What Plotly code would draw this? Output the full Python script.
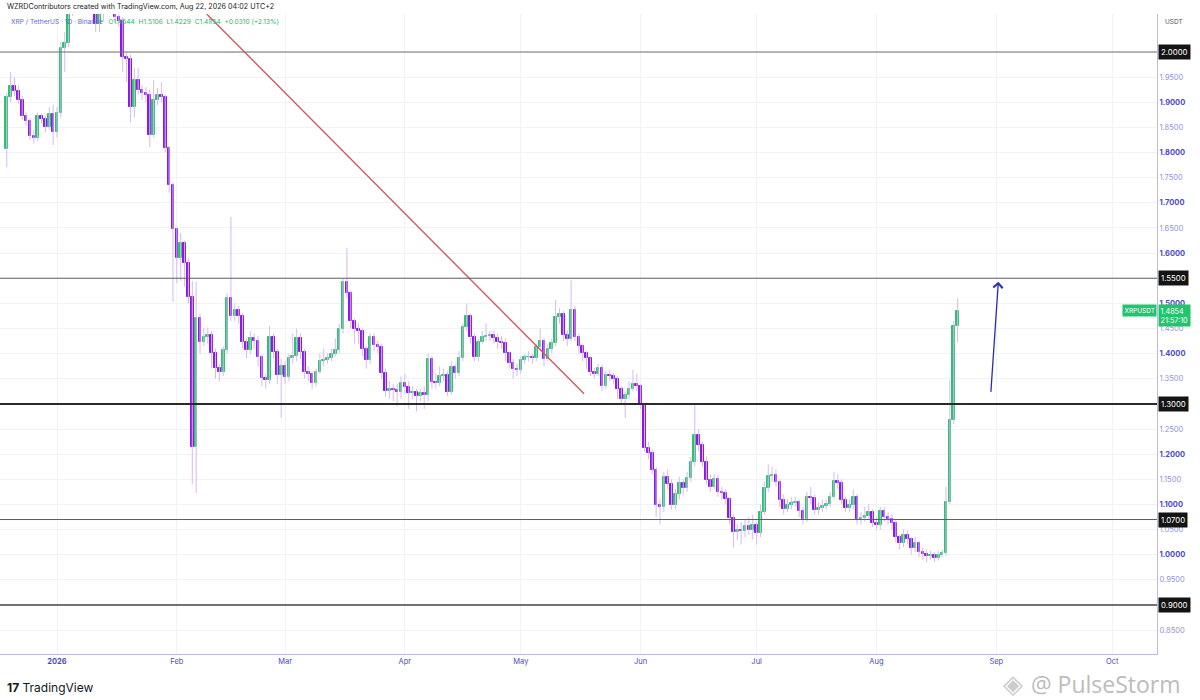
import pandas as pd
import plotly.graph_objects as go

FONT = 'Inter, Roboto, sans-serif'
UP_COLOR = '#2cc270'
DOWN_COLOR = '#8a1ae8'
WICK_COLOR = '#d6b9f3'
AXIS_TEXT = '#4a4ac4'
AXIS_TEXT_LIGHT = '#9092de'
GRID_COLOR = '#f1f2f7'
AXIS_LINE = '#b7bbe8'
LABEL_GREEN = '#22c46e'
DAY_MS = 86400000

# XRP/USDT daily candles, 2025-12-19 .. 2026-08-22 (open = previous close)
first_open = 1.807

dec_close = [1.910, 1.932, 1.922, 1.905, 1.873, 1.863, 1.833, 1.828, 1.872, 1.866, 1.850, 1.876, 1.841]
dec_high = [1.918, 1.960, 1.950, 1.934, 1.912, 1.880, 1.868, 1.845, 1.880, 1.878, 1.872, 1.890, 1.895]
dec_low = [1.771, 1.900, 1.912, 1.897, 1.865, 1.853, 1.825, 1.818, 1.823, 1.858, 1.840, 1.845, 1.815]

jan_close = [1.879, 2.008, 2.018, 2.080, 2.110, 2.140, 2.150, 2.120, 2.100, 2.110, 2.055, 2.100, 2.120, 2.140, 2.090, 2.069,
             2.062, 1.990, 1.986, 1.890, 1.945, 1.925, 1.919, 1.915, 1.835, 1.905, 1.915, 1.910, 1.809, 1.735, 1.648]
jan_high = [1.890, 2.020, 2.040, 2.095, 2.130, 2.160, 2.180, 2.160, 2.130, 2.125, 2.120, 2.110, 2.135, 2.160, 2.150, 2.100,
            2.075, 2.070, 2.000, 1.995, 1.968, 1.968, 1.935, 1.930, 1.925, 1.944, 1.928, 1.940, 1.915, 1.812, 1.740]
jan_low = [1.830, 1.870, 1.960, 2.010, 2.072, 2.100, 2.120, 2.100, 2.080, 2.090, 2.040, 2.040, 2.060, 2.100, 2.080, 2.060,
           2.050, 1.960, 1.940, 1.860, 1.870, 1.915, 1.905, 1.900, 1.811, 1.830, 1.895, 1.900, 1.800, 1.720, 1.503]

feb_close = [1.590, 1.620, 1.580, 1.513, 1.214, 1.471, 1.424, 1.433, 1.438, 1.401, 1.371, 1.364, 1.407, 1.511,
             1.475, 1.487, 1.475, 1.423, 1.407, 1.431, 1.425, 1.393, 1.352, 1.348, 1.433, 1.403, 1.358, 1.376]
feb_high = [1.650, 1.640, 1.625, 1.590, 1.545, 1.543, 1.480, 1.450, 1.452, 1.445, 1.410, 1.380, 1.415, 1.520,
            1.672, 1.500, 1.495, 1.480, 1.430, 1.445, 1.440, 1.435, 1.398, 1.360, 1.455, 1.440, 1.410, 1.390]
feb_low = [1.540, 1.545, 1.533, 1.500, 1.140, 1.123, 1.400, 1.415, 1.420, 1.370, 1.350, 1.345, 1.355, 1.400,
           1.465, 1.465, 1.460, 1.410, 1.390, 1.400, 1.410, 1.375, 1.335, 1.330, 1.340, 1.390, 1.340, 1.272]

mar_close = [1.354, 1.391, 1.395, 1.431, 1.403, 1.364, 1.360, 1.342, 1.364, 1.385, 1.388, 1.392, 1.400, 1.407, 1.449, 1.543,
             1.521, 1.465, 1.449, 1.445, 1.409, 1.387, 1.433, 1.417, 1.413, 1.362, 1.326, 1.330, 1.328, 1.324, 1.342]
mar_high = [1.385, 1.400, 1.440, 1.450, 1.440, 1.410, 1.375, 1.365, 1.370, 1.400, 1.410, 1.400, 1.410, 1.430, 1.460, 1.550,
            1.610, 1.525, 1.470, 1.460, 1.450, 1.415, 1.440, 1.440, 1.425, 1.420, 1.370, 1.345, 1.340, 1.340, 1.355]
mar_low = [1.340, 1.345, 1.380, 1.385, 1.390, 1.350, 1.345, 1.330, 1.335, 1.360, 1.375, 1.380, 1.385, 1.395, 1.400, 1.440,
           1.510, 1.450, 1.420, 1.420, 1.395, 1.370, 1.380, 1.405, 1.400, 1.350, 1.315, 1.310, 1.305, 1.295, 1.310]

apr_close = [1.334, 1.322, 1.324, 1.316, 1.322, 1.318, 1.389, 1.344, 1.342, 1.356, 1.357, 1.324, 1.373, 1.361, 1.391,
             1.453, 1.475, 1.433, 1.393, 1.423, 1.433, 1.435, 1.437, 1.431, 1.423, 1.421, 1.401, 1.381, 1.369, 1.368]
apr_high = [1.360, 1.345, 1.335, 1.330, 1.330, 1.335, 1.400, 1.395, 1.360, 1.375, 1.370, 1.365, 1.385, 1.380, 1.405,
            1.460, 1.500, 1.480, 1.440, 1.430, 1.445, 1.460, 1.445, 1.445, 1.440, 1.435, 1.430, 1.405, 1.390, 1.380]
apr_low = [1.320, 1.290, 1.310, 1.285, 1.305, 1.290, 1.305, 1.330, 1.330, 1.335, 1.345, 1.315, 1.318, 1.350, 1.355,
           1.385, 1.445, 1.420, 1.385, 1.385, 1.420, 1.425, 1.425, 1.420, 1.410, 1.410, 1.385, 1.370, 1.350, 1.355]

may_close = [1.387, 1.393, 1.394, 1.391, 1.413, 1.425, 1.389, 1.410, 1.421, 1.473, 1.479, 1.437, 1.429, 1.487, 1.433, 1.415,
             1.401, 1.391, 1.364, 1.360, 1.372, 1.336, 1.358, 1.356, 1.350, 1.330, 1.310, 1.318, 1.330, 1.340, 1.335]
may_high = [1.395, 1.400, 1.405, 1.400, 1.420, 1.450, 1.430, 1.420, 1.430, 1.507, 1.490, 1.485, 1.445, 1.546, 1.495, 1.440,
            1.420, 1.405, 1.395, 1.372, 1.380, 1.378, 1.365, 1.368, 1.362, 1.355, 1.335, 1.325, 1.345, 1.368, 1.360]
may_low = [1.360, 1.380, 1.385, 1.380, 1.385, 1.405, 1.375, 1.385, 1.400, 1.415, 1.460, 1.425, 1.415, 1.425, 1.425, 1.400,
           1.385, 1.370, 1.355, 1.350, 1.355, 1.325, 1.330, 1.345, 1.340, 1.310, 1.300, 1.272, 1.310, 1.325, 1.325]

jun_close = [1.298, 1.212, 1.202, 1.169, 1.099, 1.095, 1.155, 1.140, 1.099, 1.120, 1.143, 1.133, 1.153, 1.185, 1.238,
             1.218, 1.185, 1.149, 1.135, 1.151, 1.125, 1.123, 1.111, 1.073, 1.045, 1.049, 1.047, 1.057, 1.050, 1.060]
jun_high = [1.340, 1.300, 1.225, 1.210, 1.175, 1.110, 1.165, 1.170, 1.150, 1.130, 1.155, 1.150, 1.165, 1.195, 1.298,
            1.250, 1.225, 1.195, 1.160, 1.160, 1.158, 1.135, 1.130, 1.115, 1.080, 1.060, 1.065, 1.070, 1.075, 1.080]
jun_low = [1.290, 1.205, 1.190, 1.160, 1.075, 1.060, 1.085, 1.130, 1.090, 1.090, 1.110, 1.120, 1.125, 1.145, 1.175,
           1.205, 1.175, 1.140, 1.125, 1.130, 1.115, 1.110, 1.100, 1.060, 1.014, 1.030, 1.020, 1.035, 1.040, 1.030]

jul_close = [1.043, 1.085, 1.133, 1.157, 1.159, 1.145, 1.109, 1.091, 1.099, 1.103, 1.105, 1.087, 1.071, 1.115, 1.112, 1.089,
             1.093, 1.097, 1.101, 1.115, 1.147, 1.143, 1.109, 1.093, 1.099, 1.115, 1.071, 1.074, 1.077, 1.085, 1.063]
jul_high = [1.065, 1.100, 1.145, 1.180, 1.175, 1.170, 1.150, 1.120, 1.110, 1.115, 1.115, 1.110, 1.095, 1.125, 1.135, 1.120,
            1.105, 1.110, 1.110, 1.125, 1.165, 1.160, 1.150, 1.115, 1.110, 1.130, 1.120, 1.085, 1.095, 1.100, 1.090]
jul_low = [1.020, 1.035, 1.080, 1.125, 1.145, 1.135, 1.095, 1.080, 1.085, 1.090, 1.095, 1.075, 1.060, 1.065, 1.100, 1.080,
           1.080, 1.085, 1.090, 1.095, 1.110, 1.130, 1.100, 1.085, 1.085, 1.090, 1.060, 1.060, 1.065, 1.070, 1.055]

aug_close = [1.059, 1.087, 1.075, 1.071, 1.063, 1.035, 1.023, 1.039, 1.031, 1.013, 1.023, 1.005, 1.002, 0.997, 0.999,
             0.994, 0.999, 1.003, 1.105, 1.268, 1.4544, 1.4854]
aug_high = [1.075, 1.095, 1.095, 1.085, 1.080, 1.068, 1.040, 1.050, 1.048, 1.035, 1.035, 1.028, 1.015, 1.010, 1.008,
            1.005, 1.008, 1.010, 1.135, 1.348, 1.465, 1.5106]
aug_low = [1.050, 1.050, 1.065, 1.060, 1.050, 1.025, 1.010, 1.015, 1.020, 1.000, 1.005, 0.995, 0.990, 0.985, 0.990,
           0.985, 0.988, 0.995, 0.998, 1.100, 1.260, 1.4229]

levels = [2.0, 1.55, 1.30, 1.07, 0.90]
level_labels = ['2.0000', '1.5500', '1.3000', '1.0700', '0.9000']

trend_dates = ['2026-02-08 17:30', '2026-05-17 08:30']
trend_prices = [2.0756, 1.320]

arrow_dates = ['2026-08-30 14:00', '2026-09-01 13:00']
arrow_prices = [1.321, 1.543]

month_ticks = ['2026-01-01', '2026-02-01', '2026-03-01', '2026-04-01', '2026-05-01',
               '2026-06-01', '2026-07-01', '2026-08-01', '2026-09-01', '2026-10-01']
month_labels = ['<b>2026</b>', 'Feb', 'Mar', 'Apr', 'May', 'Jun', 'Jul', 'Aug', 'Sep', 'Oct']

y_ticks = [0.85, 0.90, 0.95, 1.00, 1.05, 1.10, 1.15, 1.20, 1.25, 1.30, 1.35, 1.40, 1.45,
           1.50, 1.55, 1.60, 1.65, 1.70, 1.75, 1.80, 1.85, 1.90, 1.95, 2.00]

# line colour / width per horizontal level
LEVEL_STYLE = {2.0: ('#6e6e6e', 1), 1.55: ('#5e5e5e', 1), 1.30: ('#2a2a2a', 2), 1.07: ('#5e5e5e', 1), 0.90: ('#444444', 1.4)}

dates = pd.date_range('2025-12-19', '2026-08-22', freq='D')
closes = dec_close + jan_close + feb_close + mar_close + apr_close + may_close + jun_close + jul_close + aug_close
highs = dec_high + jan_high + feb_high + mar_high + apr_high + may_high + jun_high + jul_high + aug_high
lows = dec_low + jan_low + feb_low + mar_low + apr_low + may_low + jun_low + jul_low + aug_low
assert len(dates) == len(closes) == len(highs) == len(lows)
opens = [first_open] + closes[:-1]

fig = go.Figure()

wick_x, wick_y = [], []
for d, lo, hi in zip(dates, lows, highs):
    wick_x += [d, d, None]
    wick_y += [lo, hi, None]
fig.add_trace(go.Scatter(x=wick_x, y=wick_y, mode='lines', line=dict(color=WICK_COLOR, width=1), hoverinfo='skip'))

body_base = [min(o, c) for o, c in zip(opens, closes)]
body_size = [abs(c - o) for o, c in zip(opens, closes)]
body_color = [UP_COLOR if c >= o else DOWN_COLOR for o, c in zip(opens, closes)]
fig.add_trace(go.Bar(
    x=dates, y=body_size, base=body_base, width=0.68 * DAY_MS,
    marker=dict(color=body_color, line=dict(color=body_color, width=1)),
    hoverinfo='skip',
))

fig.add_trace(go.Scatter(x=trend_dates, y=trend_prices, mode='lines',
                         line=dict(color='#cf5b63', width=1.4), hoverinfo='skip'))

for level, label in zip(levels, level_labels):
    color, width = LEVEL_STYLE[level]
    fig.add_shape(type='line', xref='paper', x0=0, x1=1, yref='y', y0=level, y1=level,
                  line=dict(color=color, width=width))
    fig.add_annotation(xref='paper', x=1, xanchor='left', xshift=1, yref='y', y=level, yanchor='middle',
                       text=label, showarrow=False, bgcolor='#141414', borderpad=2,
                       font=dict(color='white', size=7.8, family=FONT))

fig.add_annotation(x=arrow_dates[1], y=arrow_prices[1], ax=arrow_dates[0], ay=arrow_prices[0],
                   xref='x', yref='y', axref='x', ayref='y', text='', showarrow=True,
                   arrowhead=4, arrowsize=1.4, arrowwidth=1.3, arrowcolor='#2c2cb0')

# last price labels
fig.add_annotation(xref='paper', x=1, xanchor='left', xshift=1, yref='y', y=closes[-1], yanchor='top', yshift=7,
                   text='1.4854<br>21:57:10', align='left', showarrow=False, bgcolor=LABEL_GREEN, borderpad=1.5,
                   font=dict(color='white', size=7.2, family=FONT))
fig.add_annotation(xref='paper', x=1, xanchor='right', yref='y', y=closes[-1], yanchor='middle',
                   text='XRPUSDT', showarrow=False, bgcolor=LABEL_GREEN, borderpad=1.5,
                   font=dict(color='white', size=6.5, family=FONT))

# header texts
fig.add_annotation(xref='paper', x=0.004, xanchor='left', yref='paper', y=1.011, yanchor='middle',
                   text='WZRDContributors created with TradingView.com, Aug 22, 2026 04:02 UTC+2',
                   showarrow=False, font=dict(color='#222222', size=7.2, family=FONT))
fig.add_annotation(xref='paper', x=0.008, xanchor='left', yref='paper', y=0.9875, yanchor='middle',
                   text='<span style="color:#6266e0">XRP / TetherUS · 1D · Binance</span>   '
                        '<span style="color:#26b866">O1.4544  H1.5106  L1.4229  C1.4854  +0.0310 (+2.13%)</span>',
                   showarrow=False, font=dict(size=6.6, family=FONT))
fig.add_annotation(xref='paper', x=1, xanchor='left', xshift=6, yref='paper', y=0.9875, yanchor='middle',
                   text='USDT', showarrow=False, font=dict(color='#555555', size=6.5, family=FONT))

# branding
fig.add_annotation(xref='paper', x=0.004, xanchor='left', yref='paper', y=-0.053, yanchor='middle',
                   text='<b>17</b> TradingView', showarrow=False, font=dict(color='#131722', size=12, family=FONT))
fig.add_annotation(xref='paper', x=0.8755, xanchor='center', yref='paper', y=-0.047, yanchor='middle',
                   text='◈', showarrow=False, font=dict(color='#cccccc', size=26, family='DejaVu Sans'))
fig.add_annotation(xref='paper', x=0.889, xanchor='left', yref='paper', y=-0.047, yanchor='middle',
                   text='@ PulseStorm', showarrow=False, font=dict(color='#bcbcbc', size=23, family='Open Sans'))

y_text = [f'<b>{v:.4f}</b>' if round(v * 20) % 2 == 0 else f'<span style="color:{AXIS_TEXT_LIGHT}">{v:.4f}</span>'
          for v in y_ticks]

fig.update_layout(
    width=1200, height=700,
    margin=dict(l=0, r=43, t=14, b=46),
    paper_bgcolor='white', plot_bgcolor='white',
    showlegend=False, bargap=0,
    font=dict(family=FONT),
    xaxis=dict(
        type='date', range=['2025-12-17 06:00', '2026-10-12 14:00'],
        tickvals=month_ticks, ticktext=month_labels, ticks='',
        tickfont=dict(size=7.5, color=AXIS_TEXT, family=FONT),
        showgrid=True, gridcolor=GRID_COLOR, gridwidth=1,
        showline=True, linecolor=AXIS_LINE, linewidth=1, zeroline=False,
    ),
    yaxis=dict(
        side='right', range=[0.8025, 2.0756],
        tickvals=y_ticks, ticktext=y_text, ticks='',
        tickfont=dict(size=7.5, color=AXIS_TEXT, family=FONT),
        showgrid=True, gridcolor=GRID_COLOR, gridwidth=1,
        showline=True, linecolor=AXIS_LINE, linewidth=1, zeroline=False,
    ),
)

fig.write_html("out.html", config={'displayModeBar': False},
               post_script=["document.body.style.margin = '0';"])
